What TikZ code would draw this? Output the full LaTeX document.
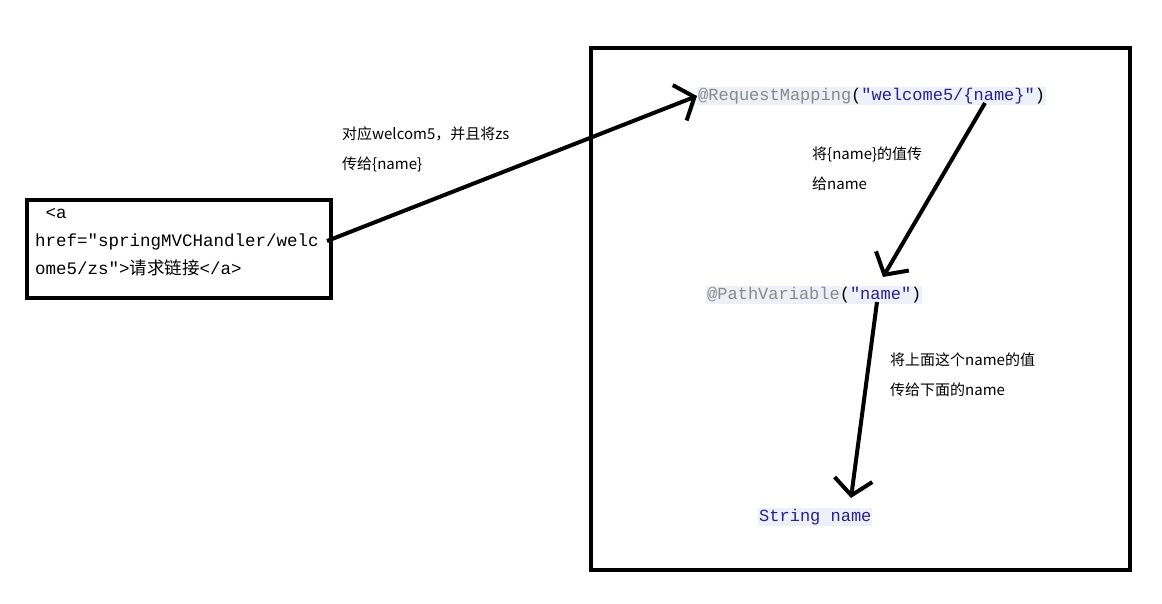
\documentclass[tikz,border=0pt]{standalone}
\usepackage{fontspec}
\setmonofont{Liberation Mono}
\newfontfamily\cjk{Noto Sans CJK SC}
\usetikzlibrary{arrows.meta}
\definecolor{anno}{HTML}{8A8A8A}
\definecolor{str}{HTML}{2A1F8F}
\definecolor{hl}{HTML}{EDF0F8}
\tikzset{
  frame/.style={draw=black,line width=4pt},
  arr/.style={line width=4pt,-{Straight Barb[length=16pt,width=38pt]}},
  code/.style={font=\ttfamily\fontsize{17}{20}\selectfont,fill=hl,inner sep=1pt,anchor=west},
  note/.style={font=\cjk\fontsize{15}{30}\selectfont,align=left,anchor=north west,inner sep=0pt},
}
\begin{document}
\begin{tikzpicture}[x=1pt,y=-1pt]
\useasboundingbox (0,0) rectangle (1162,604);
\draw[frame] (591,48) rectangle (1130,570);
\draw[frame] (27,200) rectangle (331,298);
\node[font=\ttfamily\fontsize{17.5}{28}\selectfont,align=left,anchor=north west,inner sep=0pt] (link) at (35,208)
 {\ <a\\href="springMVCHandler/welc\\ome5/zs">{\cjk 请求链接}</a>};
\coordinate (s1) at (327,241);
\node[code] (rm) at (697,96) {\textcolor{anno}{@RequestMapping}(\textcolor{str}{"welcome5/\{name\}"})};
\node[code] (pv) at (706,295) {\textcolor{anno}{@PathVariable}(\textcolor{str}{"name"})};
\node[code] (sn) at (758,517) {\textcolor{str}{String name}};
\draw[arr] (s1) -- (rm.west);
\draw[arr] (985,103) -- (883,277);
\draw[arr] (877,302) -- (851,498);
\node[note] (t1) at (342,127) {对应welcom5，并且将zs\\传给\{name\}};
\node[note] (t2) at (812,147) {将\{name\}的值传\\给name};
\node[note] (t3) at (890,353) {将上面这个name的值\\传给下面的name};
\end{tikzpicture}
\end{document}
